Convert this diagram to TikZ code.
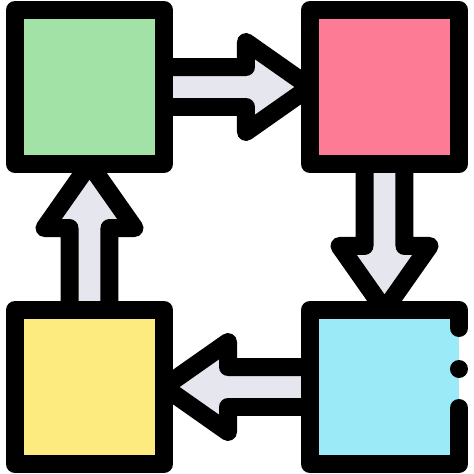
\documentclass[tikz,border=0pt]{standalone}
\usetikzlibrary{calc,backgrounds}
\definecolor{boxgreen}{HTML}{A2E2A6}
\definecolor{boxpink}{HTML}{FE7B96}
\definecolor{boxblue}{HTML}{9AEAF8}
\definecolor{boxyellow}{HTML}{FEEB7F}
\definecolor{arrowgray}{HTML}{E5E6EE}
\tikzset{
  box/.style={minimum width=2.98cm, minimum height=3.08cm, inner sep=0pt, outer sep=0pt, line width=0.36cm, line join=round},
  outline/.style={line width=0.36cm, line join=round, line cap=round},
  blockarrow/.style={outline, fill=arrowgray},
}
\begin{document}
\begin{tikzpicture}[x=0.02cm, y=-0.02cm]
  \useasboundingbox (0,0) rectangle (474,474);
  \node[box, draw, fill=boxgreen] (green) at (89.5,87) {};
  \node[box, draw, fill=boxpink] (pink) at (384.5,87) {};
  \node[box, draw, fill=boxyellow] (yellow) at (89.5,387) {};
  \node[box, fill=boxblue] (blue) at (384.5,387) {};
  % blue box, right side left open
  \draw[outline] ($(blue.east)+(0,-59)$) -- (blue.north east) -- (blue.north west) -- (blue.south west) -- (blue.south east) -- ($(blue.east)+(0,21)$);
  \fill ($(blue.east)+(0,-18)$) circle (0.18cm);
  \begin{pgfonlayer}{background}
    \foreach \a/\b in {green.east/pink.west, pink.south/blue.north, blue.west/yellow.east, yellow.north/green.south} {
      \coordinate (h) at ($(\a)!1.64cm!(\b)$);
      \draw[blockarrow] ($(\a)!0.4cm!90:(\b)$) -- ($(h)!0.4cm!90:(\b)$) -- ($(h)!0.9cm!90:(\b)$) -- (\b)
        -- ($(h)!0.9cm!-90:(\b)$) -- ($(h)!0.4cm!-90:(\b)$) -- ($(\a)!0.4cm!-90:(\b)$) -- cycle;
    }
  \end{pgfonlayer}
\end{tikzpicture}
\end{document}
